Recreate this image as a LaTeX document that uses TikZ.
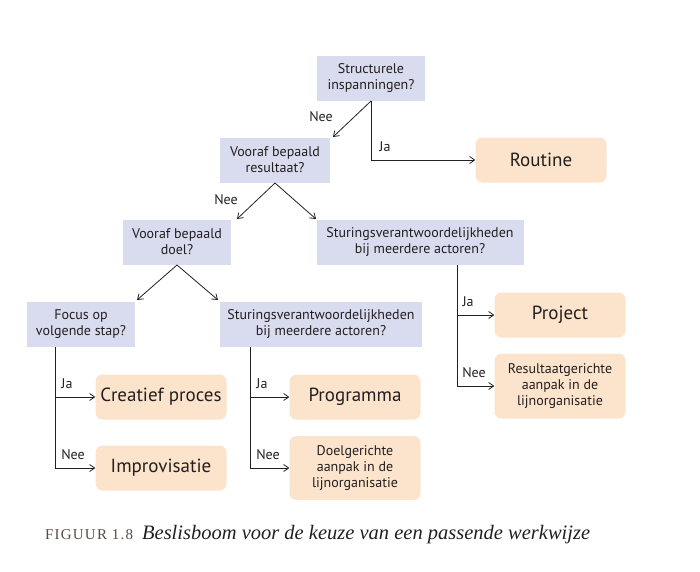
\documentclass[tikz,border=0pt]{standalone}
\usepackage{fontspec}
\setsansfont{PT Sans}
\setmainfont{Liberation Serif}
\usetikzlibrary{arrows.meta}
\definecolor{qbox}{HTML}{D9DBEE}
\definecolor{obox}{HTML}{FCE3CC}
\definecolor{txt}{HTML}{231F20}
\definecolor{capc}{HTML}{5A4A42}
\begin{document}
\begin{tikzpicture}[x=1pt,y=-1pt,
  qnode/.style={fill=qbox,minimum height=45pt,align=center,font=\sffamily\fontsize{14}{16}\selectfont,text=txt,inner sep=2pt},
  onode/.style={fill=obox,rounded corners=7pt,minimum width=131pt,minimum height=45pt,align=center,text=txt,inner sep=2pt},
  big/.style={font=\sffamily\fontsize{19}{21}\selectfont},
  small/.style={font=\sffamily\fontsize{14}{16}\selectfont},
  arr/.style={-{Straight Barb[length=5pt,width=7pt]},line width=0.8pt,draw=txt},
  ln/.style={line width=0.8pt,draw=txt},
  lab/.style={font=\sffamily\fontsize{14}{16}\selectfont,text=txt}]
\useasboundingbox (0,0) rectangle (700,571);
\node[qnode,minimum width=108pt] (q1) at (371,78) {Structurele\\inspanningen?};
\node[qnode,minimum width=110pt] (q2) at (275,160) {Vooraf bepaald\\resultaat?};
\node[qnode,minimum width=108pt] (q3) at (177,242) {Vooraf bepaald\\doel?};
\node[qnode,minimum width=207pt] (q4) at (420,242) {Sturingsverantwoordelijkheden\\bij meerdere actoren?};
\node[qnode,minimum width=108pt] (q5) at (81,324) {Focus op\\volgende stap?};
\node[qnode,minimum width=202pt] (q6) at (321,324) {Sturingsverantwoordelijkheden\\bij meerdere actoren?};
\node[onode,big] (routine) at (541,160) {Routine};
\node[onode,big] (project) at (560,315) {Project};
\node[onode,small,minimum height=65pt] (result) at (560,386) {Resultaatgerichte\\aanpak in de\\lijnorganisatie};
\node[onode,big] (creatief) at (161,397) {Creatief proces};
\node[onode,big] (improv) at (161,468) {Improvisatie};
\node[onode,big] (progr) at (355,397) {Programma};
\node[onode,small,minimum height=64pt] (doel) at (355,468) {Doelgerichte\\aanpak in de\\lijnorganisatie};
% Q1
\coordinate (q1b) at (371,101);
\draw[arr] (q1b) -- (333,137);
\node[lab] at (321,117) {Nee};
\draw[arr] (q1b) |- (routine.west);
\node[lab] at (385,147) {Ja};
% Q2
\coordinate (q2b) at (275,183);
\draw[arr] (q2b) -- (237,219);
\draw[arr] (q2b) -- (316,219);
\node[lab] at (226,200) {Nee};
% Q3
\coordinate (q3b) at (177,265);
\draw[arr] (q3b) -- (137,300);
\draw[arr] (q3b) -- (218,300);
% Q4
\coordinate (q4s) at (457,265);
\draw[ln] (q4s) -- (457,386);
\draw[arr] (457,315) -- (project.west);
\draw[arr] (457,386) -- (result.west);
\node[lab] at (468,302) {Ja};
\node[lab] at (474,373) {Nee};
% Q5
\coordinate (q5s) at (55,347);
\draw[ln] (q5s) -- (55,468);
\draw[arr] (55,397) -- (creatief.west);
\draw[arr] (55,468) -- (improv.west);
\node[lab] at (67,384) {Ja};
\node[lab] at (73,455) {Nee};
% Q6
\coordinate (q6s) at (250,347);
\draw[ln] (q6s) -- (250,468);
\draw[arr] (250,397) -- (progr.west);
\draw[arr] (250,468) -- (doel.west);
\node[lab] at (262,384) {Ja};
\node[lab] at (268,455) {Nee};
% caption
\node[anchor=base west,inner sep=0] (cap) at (45,539) {\fontsize{20.5}{23}\selectfont\textcolor{capc}{\addfontfeatures{LetterSpace=8}\fontsize{15}{17}\selectfont FIGUUR 1.8}\hspace{9pt}\textcolor{txt}{\itshape Beslisboom voor de keuze van een passende werkwijze}};
\end{tikzpicture}
\end{document}
